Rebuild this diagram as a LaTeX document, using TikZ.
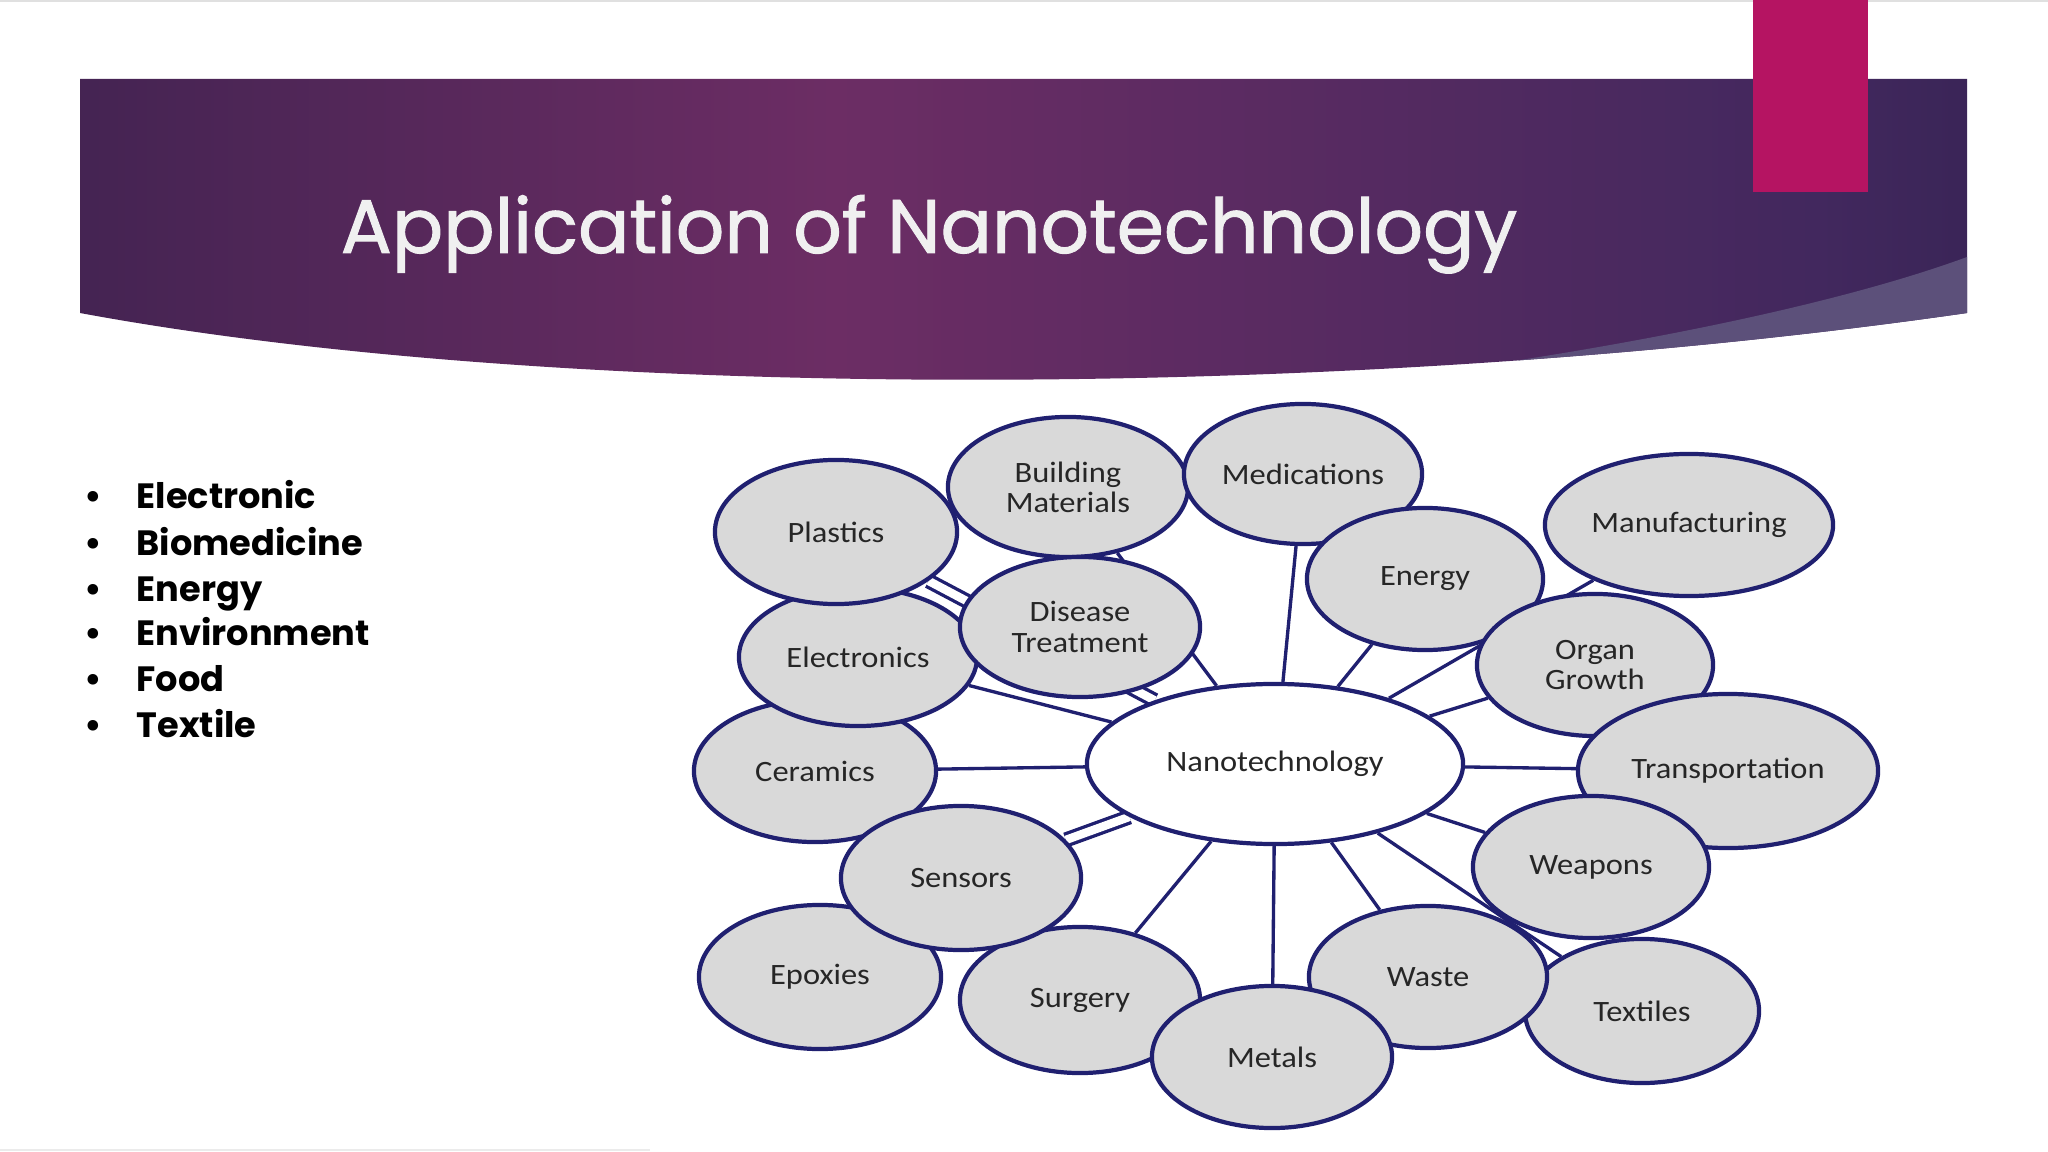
\documentclass[tikz,border=0pt]{standalone}
\usepackage{fontspec}
\setmainfont{Carlito}
\newfontfamily\slidefont{Poppins}
\newfontfamily\titlefont{Poppins}[FakeBold=1.2]
\newfontfamily\bubblefont{Carlito}[FakeStretch=1.1]
\definecolor{bandark}{RGB}{36, 28, 68}
\definecolor{banmid}{RGB}{108, 45, 100}
\definecolor{banblue}{RGB}{66, 40, 94}
\definecolor{wedge}{RGB}{92, 80, 122}
\definecolor{accent}{RGB}{181, 20, 98}
\definecolor{ringblue}{RGB}{32, 32, 112}
\definecolor{bubblegray}{RGB}{217, 217, 217}
\definecolor{labelgray}{RGB}{38, 38, 38}
\usetikzlibrary{shapes.geometric, positioning, calc}
\pgfdeclarelayer{background}
\pgfsetlayers{background,main}
\pgfdeclarehorizontalshading{bannershade}{100bp}{color(0bp)=(bandark); color(14bp)=(bandark!85!banmid); color(45bp)=(banmid); color(71bp)=(banblue); color(87bp)=(bandark); color(100bp)=(bandark)}
\tikzset{
  bubble/.style={ellipse, draw=ringblue, line width=1.2pt, fill=bubblegray, inner sep=0pt,
    align=center, text=labelgray, font=\bubblefont\fontsize{8.4}{8.6}\selectfont},
  spoke/.style={draw=ringblue, line width=0.95pt},
  twin/.style={spoke, double=white, double distance=2.4pt},
  item/.style={anchor=base west, inner sep=0pt, font=\slidefont\bfseries\fontsize{10}{12}\selectfont}
}

\begin{document}
\begin{tikzpicture}[x=0.01cm, y=-0.01cm]
  \begin{pgfonlayer}{background}
    \fill[white] (0,0) rectangle (2048,1152);
  \end{pgfonlayer}
  \useasboundingbox (0,0) rectangle (2048,1152);
  \draw[black!12, line width=0.6pt] (0,1) -- (2048,1);
  \draw[black!8, line width=0.6pt] (0,1150) -- (650,1150);

  % Title banner
  \path[shading=bannershade] (80,79) -- (1967,79) -- (1967,313)
    .. controls (1350,402) and (560,402) .. (80,313) -- cycle;
  \begin{scope}
    \clip (80,79) -- (1967,79) -- (1967,313) .. controls (1350,402) and (560,402) .. (80,313) -- cycle;
    \fill[wedge] (1380,380) .. controls (1650,345) and (1850,300) .. (1967,257) -- (1967,420) -- cycle;
  \end{scope}
  \fill[accent] (1753,0) rectangle (1868,192);
  \node[anchor=base west, inner sep=0pt, text=white!94!black, font=\titlefont\fontsize{21.6}{26}\selectfont] (title) at (340,253) {Application of Nanotechnology};

  % Bullet list
  \node[item] (b1) at (84,509) {\makebox[0.52cm][l]{\textbullet}Electronic};
  \node[item] (b2) at (84,555) {\makebox[0.52cm][l]{\textbullet}Biomedicine};
  \node[item] (b3) at (84,601) {\makebox[0.52cm][l]{\textbullet}Energy};
  \node[item] (b4) at (84,646) {\makebox[0.52cm][l]{\textbullet}Environment};
  \node[item] (b5) at (84,692) {\makebox[0.52cm][l]{\textbullet}Food};
  \node[item] (b6) at (84,737) {\makebox[0.52cm][l]{\textbullet}Textile};

  % Bubbles, left side
  \node[bubble, minimum width=2.42cm, minimum height=1.42cm] (ceramics) at (815,771) {Ceramics};
  \node[bubble, minimum width=2.38cm, minimum height=1.38cm] (electronics) at (858,657) {Electronics};
  \node[bubble, minimum width=2.42cm, minimum height=1.44cm] (plastics) at (836,532) {Plastics};
  \node[bubble, minimum width=2.40cm, minimum height=1.40cm] (building) at (1068,487) {Building\\Materials};
  \node[bubble, minimum width=2.40cm, minimum height=1.40cm] (disease) at (1080,627) {Disease\\Treatment};

  % Bubbles, right side
  \node[bubble, minimum width=2.38cm, minimum height=1.40cm] (medications) at (1303,474) {Medications};
  \node[bubble, minimum width=2.36cm, minimum height=1.42cm] (energy) at (1425,579) {Energy};
  \node[bubble, minimum width=2.88cm, minimum height=1.42cm] (manufacturing) at (1689,525) {Manufacturing};
  \node[bubble, minimum width=2.36cm, minimum height=1.42cm] (organ) at (1595,665) {Organ\\Growth};
  \node[bubble, minimum width=3.00cm, minimum height=1.54cm] (transport) at (1728,771) {Transportation};
  \node[bubble, minimum width=2.36cm, minimum height=1.42cm] (weapons) at (1591,867) {Weapons};
  \node[bubble, minimum width=2.34cm, minimum height=1.44cm] (textiles) at (1642,1011) {Textiles};

  % Bubbles, bottom
  \node[bubble, minimum width=2.38cm, minimum height=1.42cm] (waste) at (1428,977) {Waste};
  \node[bubble, minimum width=2.40cm, minimum height=1.46cm] (surgery) at (1080,1000) {Surgery};
  \node[bubble, minimum width=2.40cm, minimum height=1.42cm] (metals) at (1272,1057) {Metals};
  \node[bubble, minimum width=2.42cm, minimum height=1.44cm] (epoxies) at (820,977) {Epoxies};
  \node[bubble, minimum width=2.40cm, minimum height=1.44cm] (sensors) at (961,878) {Sensors};

  % Hub
  \node[bubble, fill=white, minimum width=3.76cm, minimum height=1.60cm] (nano) at (1275,764) {Nanotechnology};

  % Spokes
  \begin{pgfonlayer}{background}
    \draw[twin] (nano) -- (plastics);
    \draw[spoke] (nano) -- (ceramics);
    \draw[spoke] (nano) -- (electronics);
    \draw[spoke] (nano) -- (building);
    \draw[spoke] (nano) -- (medications);
    \draw[spoke] (nano) -- (energy);
    \draw[spoke] (nano) -- (manufacturing);
    \draw[spoke] (nano) -- (organ);
    \draw[spoke] (nano) -- (transport);
    \draw[spoke] (nano) -- (weapons);
    \draw[spoke] (nano) -- (textiles);
    \draw[spoke] (nano) -- (waste);
    \draw[spoke] (nano) -- (metals);
    \draw[spoke] (nano) -- (surgery);
    \draw[twin] (nano) -- (sensors);
  \end{pgfonlayer}
\end{tikzpicture}
\end{document}
